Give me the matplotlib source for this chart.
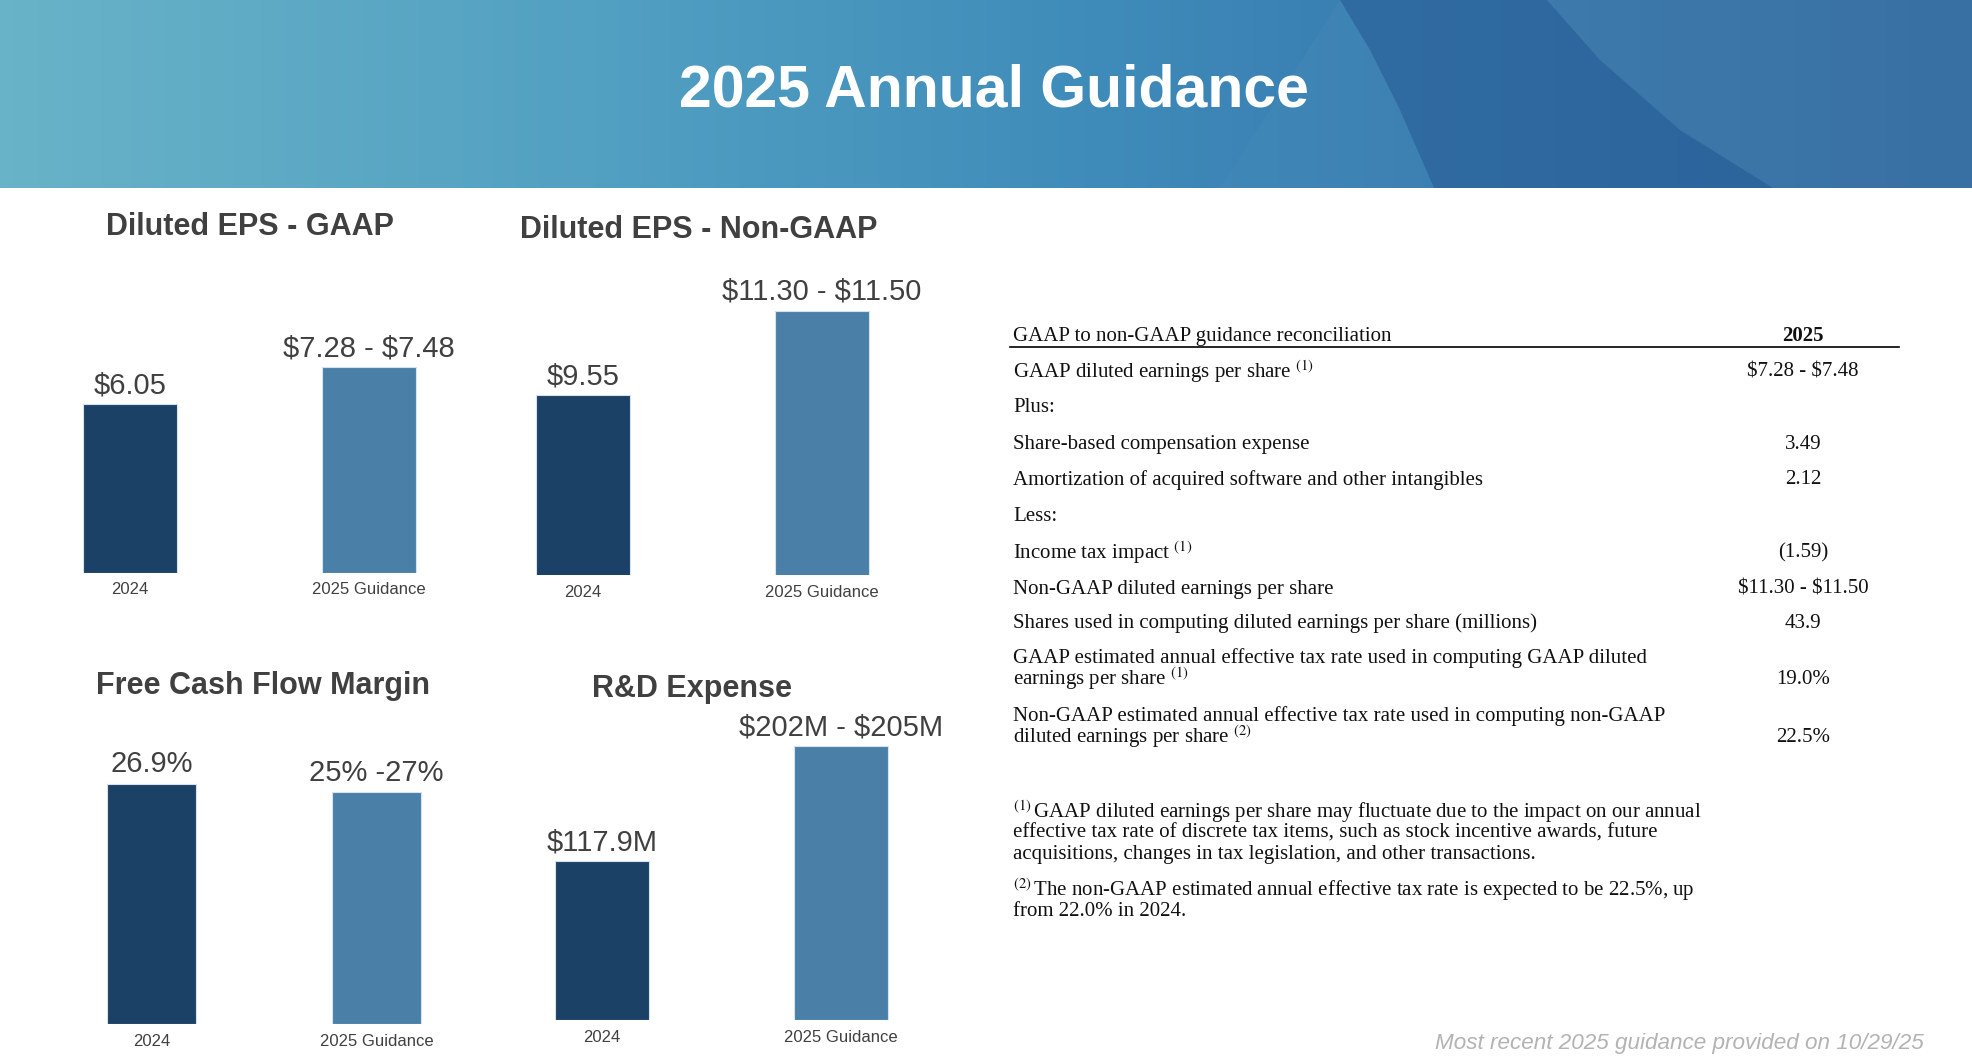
import numpy as np
import matplotlib
matplotlib.use('Agg')
import matplotlib.pyplot as plt
from matplotlib.colors import LinearSegmentedColormap
from matplotlib.patches import Polygon

plt.rcParams['font.family'] = ['Liberation Sans', 'DejaVu Sans']
plt.rcParams['mathtext.fontset'] = 'stix'

W, H = 1972, 1064

# ---- chart data ----
cats = ["2024", "2025 Guidance"]
gaap_vals = [6.05, 7.38]
gaap_labels = ["$6.05", "$7.28 - $7.48"]
nongaap_vals = [9.55, 11.40]
nongaap_labels = ["$9.55", "$11.30 - $11.50"]
fcf_vals = [26.9, 26.0]
fcf_labels = ["26.9%", "25% -27%"]
rd_vals = [117.9, 203.5]
rd_labels = ["$117.9M", "$202M - $205M"]

# ---- reconciliation table ----
table_title = "GAAP to non-GAAP guidance reconciliation"
table_year = "2025"
row_labels = [
    "GAAP diluted earnings per share",
    "Plus:",
    "Share-based compensation expense",
    "Amortization of acquired software and other intangibles",
    "Less:",
    "Income tax impact",
    "Non-GAAP diluted earnings per share",
    "Shares used in computing diluted earnings per share (millions)",
    "GAAP estimated annual effective tax rate used in computing GAAP diluted\nearnings per share",
    "Non-GAAP estimated annual effective tax rate used in computing non-GAAP\ndiluted earnings per share",
]
row_notes = ["1", "", "", "", "", "1", "", "", "1", "2"]
row_values = ["$7.28 - $7.48", "", "3.49", "2.12", "", "(1.59)",
              "$11.30 - $11.50", "43.9", "19.0%", "22.5%"]
footnotes = [
    ("1", ["GAAP diluted earnings per share may fluctuate due to the impact on our annual",
           "effective tax rate of discrete tax items, such as stock incentive awards, future",
           "acquisitions, changes in tax legislation, and other transactions."]),
    ("2", ["The non-GAAP estimated annual effective tax rate is expected to be 22.5%, up",
           "from 22.0% in 2024."]),
]
footer = "Most recent 2025 guidance provided on 10/29/25"

DARK = '#1b4167'
LIGHT = '#4a80a8'
GREY = '#404040'

fig = plt.figure(figsize=(W / 100, H / 100), dpi=100)


def px_axes(left, top, width, height):
    return fig.add_axes([left / W, 1 - (top + height) / H, width / W, height / H])


def ftext(x, y, s, **kw):
    return fig.text(x / W, 1 - y / H, s, **kw)


# header band
hdr = px_axes(0, 0, W, 188)
grad = LinearSegmentedColormap.from_list(
    'hdr', [(0, '#69b3c8'), (0.3, '#52a0c2'), (0.55, '#3f8cba'),
            (0.68, '#3a80b3'), (1.0, '#2f69a0')])
hdr.imshow(np.linspace(0, 1, 600)[None, :], cmap=grad, aspect='auto',
           extent=[0, W, 188, 0])
hdr.add_patch(Polygon([[1340, 0], [1547, 0], [1600, 60], [1680, 130], [1773, 188],
                       [1434, 188], [1400, 110], [1370, 50]],
                      closed=True, color='#285b94', alpha=0.55, lw=0))
hdr.add_patch(Polygon([[1547, 0], [W, 0], [W, 188], [1773, 188], [1680, 130],
                       [1600, 60]], closed=True, color='#4d7eab', alpha=0.35, lw=0))
hdr.add_patch(Polygon([[1340, 0], [1370, 50], [1400, 110], [1434, 188], [1220, 188]],
                      closed=True, color='#4a8fb8', alpha=0.25, lw=0))
hdr.set_xlim(0, W)
hdr.set_ylim(188, 0)
hdr.axis('off')
ftext(994, 91, "2025 Annual Guidance", color='white', fontsize=42.5,
      fontweight='bold', ha='center', va='center')


def bar_panel(c1, c2, base, k, y0, vals, labels, title, tx, ty, axh=330):
    step = c2 - c1
    ax = px_axes(c1 - step / 2, base - axh, 2 * step, axh)
    ax.bar([0, 1], vals, width=0.395, color=[DARK, LIGHT],
           edgecolor='#d6e2ee', linewidth=0.8)
    ax.set_xlim(-0.5, 1.5)
    ax.set_ylim(y0, y0 + axh / k)
    ax.set_xticks([0, 1], cats)
    ax.tick_params(axis='x', length=0, pad=7, labelsize=12, labelcolor=GREY)
    ax.set_yticks([])
    for s in ax.spines.values():
        s.set_visible(False)
    ax.patch.set_alpha(0)
    for i, (v, lab) in enumerate(zip(vals, labels)):
        ax.annotate(lab, (i, v), xytext=(0, 8), textcoords='offset points',
                    ha='center', va='baseline', fontsize=21, color=GREY,
                    annotation_clip=False, parse_math=False)
    ftext(tx, ty, title, fontsize=22, fontweight='bold', color=GREY,
          ha='center', va='center')


bar_panel(130.2, 369.1, 572.5, 27.83, 0, gaap_vals, gaap_labels,
          "Diluted EPS - GAAP", 250, 227)
bar_panel(583.0, 821.9, 575.0, 45.6, 5.61, nongaap_vals, nongaap_labels,
          "Diluted EPS - Non-GAAP", 699, 230)
bar_panel(151.6, 376.7, 1023.8, 8.93, 0, fcf_vals, fcf_labels,
          "Free Cash Flow Margin", 263, 686, axh=380)
bar_panel(601.8, 840.8, 1020.0, 1.345, 0, rd_vals, rd_labels,
          "R&D Expense", 692, 689, axh=380)

# reconciliation table
serif = ['Liberation Serif', 'DejaVu Serif']
TX, VX, FS = 1013, 1803, 15
ftext(TX, 336, table_title, family=serif, fontsize=FS, color='#111111',
      ha='left', va='center')
ftext(VX, 336, table_year, family=serif, fontsize=FS, fontweight='bold',
      color='#111111', ha='center', va='center')
fig.add_artist(plt.Line2D([1010 / W, 1899 / W], [1 - 347 / H, 1 - 347 / H],
                          color='black', lw=1.2))

row_y = [371.5, 408, 444.4, 479.7, 516.1, 552.6, 589.1, 623, 658.3, 716.1]
for y, lab, note, val in zip(row_y, row_labels, row_notes, row_values):
    lines = lab.split('\n')
    for j, line in enumerate(lines):
        s = line
        if note and j == len(lines) - 1:
            s = line + r" $^{(" + note + r")}$"
        ftext(TX, y + j * 20.5, s, family=serif, fontsize=FS, color='#111111',
              ha='left', va='center')
    vy = y + (len(lines) - 1) * 21.5
    if val:
        ftext(VX, vy, val, family=serif, fontsize=FS, color='#111111',
              ha='center', va='center', parse_math=False)

fn_y = [812, 890]
for y, (note, lines) in zip(fn_y, footnotes):
    for j, line in enumerate(lines):
        s = (r"$^{(" + note + r")}\,$" + line) if j == 0 else line
        ftext(TX, y + j * 21.3, s, family=serif, fontsize=FS, color='#111111',
              ha='left', va='center')

ftext(1924, 1043, footer, fontsize=16.2, style='italic', color='#b3b3b3',
      ha='right', va='center')

fig.savefig('out.png', dpi=100)
